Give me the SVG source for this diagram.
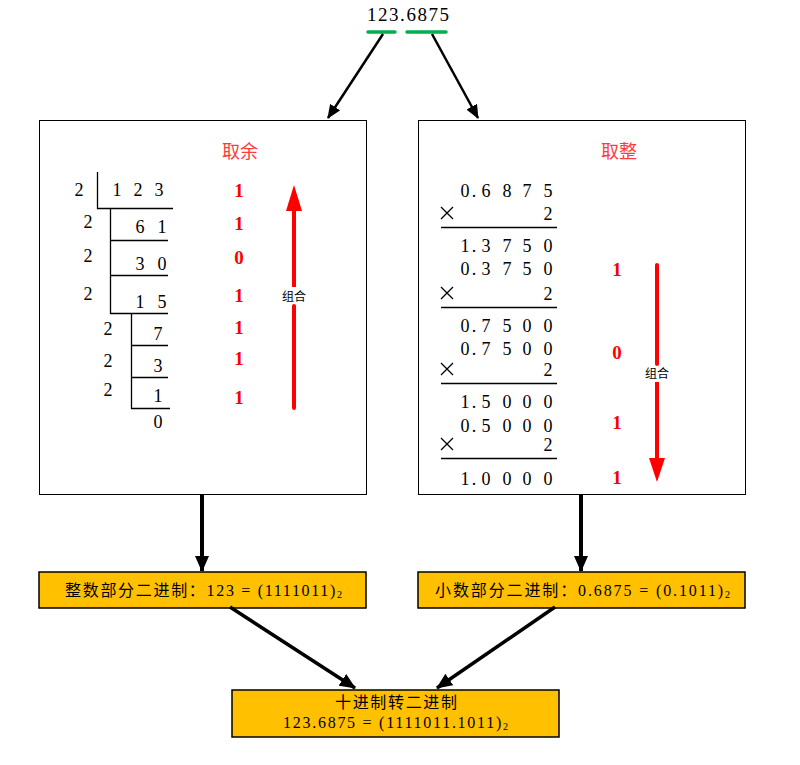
<svg xmlns="http://www.w3.org/2000/svg" width="800" height="765" viewBox="0 0 800 765">
<style>
.sf{font-family:"Liberation Serif","Noto Sans CJK SC",serif;fill:#000}
.n{font-size:18px;text-anchor:middle}
.r{font-family:"Liberation Serif",serif;font-size:19px;font-weight:bold;fill:#ff0000;text-anchor:middle}
.ttl{font-family:"Noto Sans CJK SC",sans-serif;font-size:18px;fill:#ff3b3b;text-anchor:middle}
.lbl{font-family:"Noto Sans CJK SC",sans-serif;font-size:12px;fill:#000;text-anchor:middle}
.bx{fill:#fff;stroke:#000;stroke-width:1}
.ob{fill:#ffc000;stroke:#000;stroke-width:1.5}
.bt{font-family:"Liberation Serif","Noto Sans CJK SC",serif;font-size:16px;fill:#000}
.ln{stroke:#000;stroke-width:1.3;fill:none}
.ar{stroke:#000;fill:none}
.ra{stroke:#ff0000;stroke-width:4;fill:none}
</style>
<defs>
<marker id="h1" markerUnits="userSpaceOnUse" markerWidth="14" markerHeight="12" refX="13" refY="6" orient="auto"><path d="M0,0 L14,6 L0,12 z" fill="#000"/></marker>
<marker id="h2" markerUnits="userSpaceOnUse" markerWidth="16" markerHeight="14" refX="15" refY="7" orient="auto"><path d="M0,0 L16,7 L0,14 z" fill="#000"/></marker>
</defs>
<rect width="800" height="765" fill="#fff"/>

<g id="root">
<text class="sf" x="367" y="21" font-size="19" textLength="82" lengthAdjust="spacing">123.6875</text>
<line x1="368" y1="32" x2="395" y2="32" stroke="#00b050" stroke-width="3.5" stroke-linecap="round"/>
<line x1="407" y1="32" x2="446" y2="32" stroke="#00b050" stroke-width="3.5" stroke-linecap="round"/>
</g>

<g id="int-box">
<rect class="bx" x="39.5" y="120.5" width="327" height="374"/>
<text class="ttl" x="240" y="158">取余</text>
<path class="ln" d="M97.5,172 V208.5 H173 M110.5,208.5 V313.5 H168 M110.5,240.5 H168 M110.5,275.5 H168 M131.5,313.5 V408.5 H170 M131.5,345.5 H168 M131.5,377.5 H168"/>
<g class="sf n">
<text x="79" y="196">2</text><text x="117" y="196">1</text><text x="138" y="196">2</text><text x="159" y="196">3</text>
<text x="88" y="228">2</text><text x="140" y="233">6</text><text x="162" y="233">1</text>
<text x="88" y="262">2</text><text x="140" y="270">3</text><text x="162" y="270">0</text>
<text x="88" y="300">2</text><text x="140" y="308">1</text><text x="162" y="308">5</text>
<text x="108" y="335">2</text><text x="158" y="340">7</text>
<text x="108" y="367">2</text><text x="158" y="372">3</text>
<text x="108" y="396">2</text><text x="158" y="402">1</text>
<text x="158" y="428">0</text>
</g>
<g class="r">
<text x="239" y="197">1</text><text x="239" y="230">1</text><text x="239" y="264">0</text><text x="239" y="302">1</text><text x="239" y="334">1</text><text x="239" y="365">1</text><text x="239" y="404">1</text>
</g>
</g>

<g id="frac-box">
<rect class="bx" x="418.5" y="120.5" width="327" height="374"/>
<text class="ttl" x="619" y="158">取整</text>
<path class="ln" d="M441,227.5 H557 M441,307.5 H557 M441,383.5 H557 M441,458.5 H557"/>
<g class="sf n">
<text x="465 474 486 507 527 548" y="197">0.6875</text>
<text x="548" y="220">2</text>
<text x="465 474 486 507 527 548" y="252">1.3750</text>
<text x="465 474 486 507 527 548" y="275">0.3750</text>
<text x="548" y="300">2</text>
<text x="465 474 486 507 527 548" y="332">0.7500</text>
<text x="465 474 486 507 527 548" y="355">0.7500</text>
<text x="548" y="376">2</text>
<text x="465 474 486 507 527 548" y="408">1.5000</text>
<text x="465 474 486 507 527 548" y="432">0.5000</text>
<text x="548" y="451">2</text>
<text x="465 474 486 507 527 548" y="485">1.0000</text>
</g>
<path class="ln" d="M441,207 L453,219 M453,207 L441,219 M441,287 L453,299 M453,287 L441,299 M441,363 L453,375 M453,363 L441,375 M441,438 L453,450 M453,438 L441,450" stroke-width="1"/>
<g class="r">
<text x="617" y="276">1</text><text x="617" y="359">0</text><text x="617" y="429">1</text><text x="617" y="484">1</text>
</g>
</g>

<g id="int-result">
<rect class="ob" x="39" y="572" width="327" height="36"/>
<text class="bt" x="65" y="596" textLength="277" lengthAdjust="spacing">整数部分二进制：123 = (1111011)<tspan font-size="10" dy="2">2</tspan></text>
</g>

<g id="frac-result">
<rect class="ob" x="418" y="572" width="327" height="36"/>
<text class="bt" x="435" y="596" textLength="295" lengthAdjust="spacing">小数部分二进制：0.6875 = (0.1011)<tspan font-size="10" dy="2">2</tspan></text>
</g>

<g id="final">
<rect class="ob" x="232" y="690" width="327" height="47"/>
<text class="bt" x="335" y="708" textLength="122" lengthAdjust="spacing">十进制转二进制</text>
<text class="bt" x="283" y="728" textLength="225" lengthAdjust="spacing">123.6875 = (1111011.1011)<tspan font-size="10" dy="2">2</tspan></text>
</g>

<g id="connectors">
<line class="ar" x1="383" y1="34" x2="328" y2="118" stroke-width="2.5" marker-end="url(#h1)"/>
<line class="ar" x1="432" y1="34" x2="478" y2="118" stroke-width="2.5" marker-end="url(#h1)"/>
<line class="ar" x1="202" y1="495" x2="202" y2="571" stroke-width="4" marker-end="url(#h2)"/>
<line class="ar" x1="581" y1="495" x2="581" y2="571" stroke-width="4" marker-end="url(#h2)"/>
<line class="ar" x1="230" y1="607" x2="355" y2="688" stroke-width="3.5" marker-end="url(#h2)"/>
<line class="ar" x1="555" y1="607" x2="437" y2="688" stroke-width="3.5" marker-end="url(#h2)"/>
<line class="ra" x1="294" y1="408" x2="294" y2="306" stroke-linecap="round"/>
<line class="ra" x1="294" y1="287" x2="294" y2="205"/>
<path d="M294,185 L302,211 L286,211 z" fill="#ff0000"/>
<text class="lbl" x="294" y="301">组合</text>
<line class="ra" x1="657" y1="265" x2="657" y2="364" stroke-linecap="round"/>
<line class="ra" x1="657" y1="382" x2="657" y2="462"/>
<path d="M657,482 L665,458 L649,458 z" fill="#ff0000"/>
<text class="lbl" x="657" y="378">组合</text>
</g>
</svg>
